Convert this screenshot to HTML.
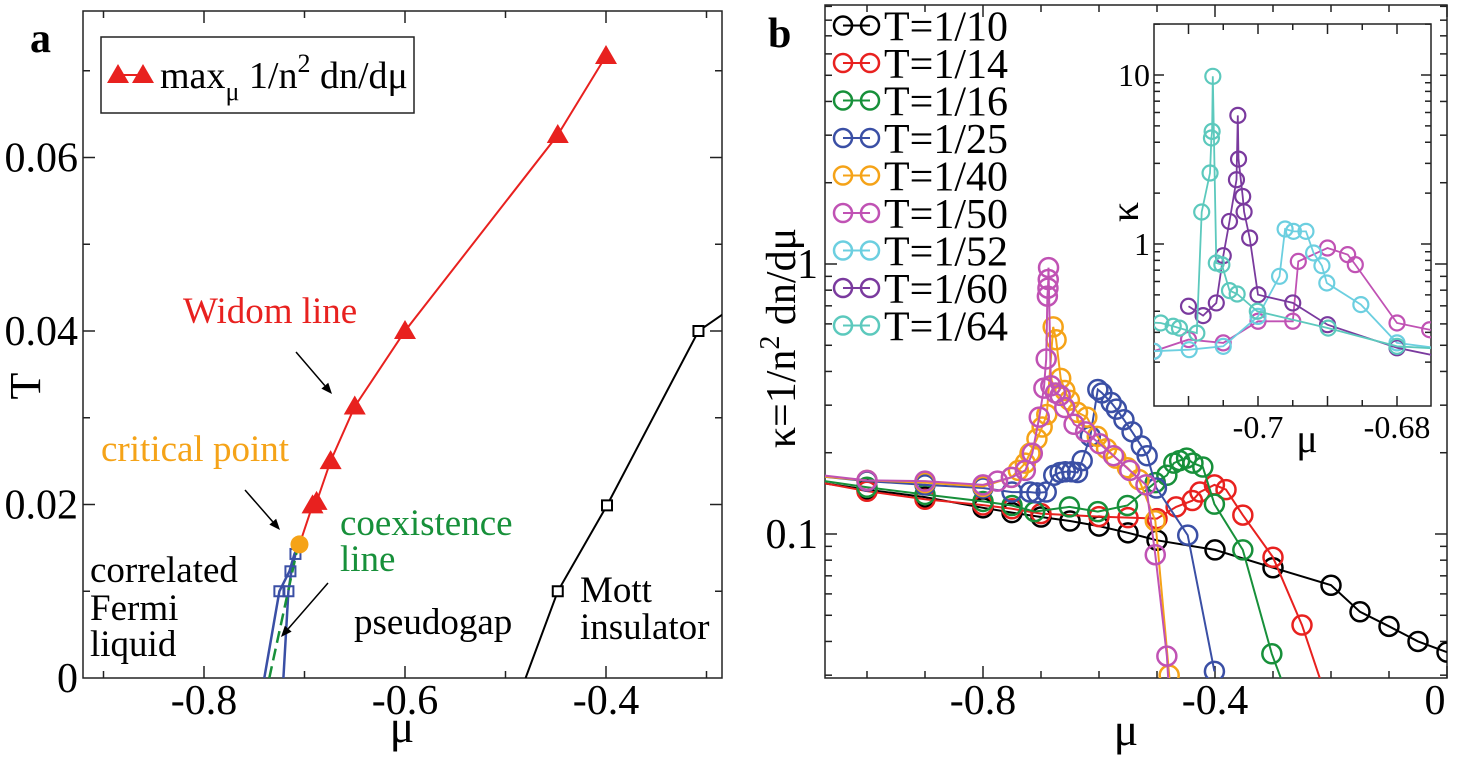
<!DOCTYPE html>
<html><head><meta charset="utf-8"><style>
html,body{margin:0;padding:0;background:#fff;}
svg{display:block;font-family:"Liberation Serif","DejaVu Serif",serif;}
</style></head><body>
<svg id="fig" width="1458" height="758" viewBox="0 0 1458 758" xmlns="http://www.w3.org/2000/svg">
<defs>
<clipPath id="clipA"><rect x="83" y="11" width="639" height="667"/></clipPath>
<clipPath id="clipB"><rect x="825" y="5" width="622" height="673"/></clipPath>
<clipPath id="clipI"><rect x="1154" y="24" width="277" height="382"/></clipPath>
</defs>
<g id="panelA"></g>
<g id="panelB"></g>
<g id="inset"></g>
</svg>
<script>
// ===== Panel a data =====
const widomMu = [-0.4, -0.448, -0.6, -0.65, -0.674, -0.688, -0.692, -0.705];
const widomT  = [0.0717, 0.0626, 0.0400, 0.0313, 0.0250, 0.0203, 0.0199, 0.0154];
const critMu = [-0.705];
const critT = [0.0154];
const mottMu = [-0.48, -0.448, -0.399, -0.308, -0.2];
const mottT  = [0, 0.01, 0.0199, 0.040, 0.0486];
const coexLeftMu = [-0.74, -0.725, -0.715, -0.71, -0.705];
const coexLeftT  = [0, 0.01, 0.0123, 0.0143, 0.0154];
const coexRightMu = [-0.721, -0.716, -0.713, -0.709];
const coexRightT  = [0, 0.01, 0.0123, 0.0143];
const coexSqMu = [-0.725, -0.716, -0.714, -0.709];
const coexSqT  = [0.01, 0.01, 0.0123, 0.0143];
const dashMu = [-0.735, -0.707];
const dashT  = [0, 0.0150];
const aXTicks = [-0.8, -0.6, -0.4];
const aXTickLabels = ["-0.8", "-0.6", "-0.4"];
const aYTicks = [0, 0.02, 0.04, 0.06];
const aYTickLabels = ["0", "0.02", "0.04", "0.06"];

// ===== Panel b data =====
const seriesNames = ["T=1/10","T=1/14","T=1/16","T=1/25","T=1/40","T=1/50","T=1/52","T=1/60","T=1/64"];
const seriesColors = ["#000000","#e8211f","#17903a","#3a4fa5","#f5a318","#c052b4","#6ccfe0","#7a3a9e","#5cc9bd"];
const k10Mu = [-1.1,-1.0,-0.9,-0.8,-0.75,-0.7,-0.65,-0.6,-0.55,-0.5,-0.4,-0.3,-0.2,-0.15,-0.1,-0.05,0];
const k10K  = [0.157,0.146,0.137,0.125,0.120,0.1156,0.1117,0.107,0.101,0.0948,0.0873,0.075,0.0646,0.0515,0.0455,0.040,0.0365];
const k14Mu = [-1.1,-1.0,-0.9,-0.8,-0.75,-0.7,-0.6,-0.55,-0.5,-0.467,-0.439,-0.426,-0.401,-0.381,-0.352,-0.3,-0.25,-0.2];
const k14K  = [0.158,0.144,0.1345,0.128,0.124,0.119,0.116,0.115,0.114,0.126,0.133,0.143,0.152,0.146,0.1175,0.082,0.046,0.022];
const k16Mu = [-1.1,-1.0,-0.9,-0.8,-0.75,-0.711,-0.651,-0.602,-0.551,-0.503,-0.483,-0.471,-0.461,-0.449,-0.438,-0.421,-0.401,-0.352,-0.302,-0.25];
const k16K  = [0.16,0.149,0.140,0.132,0.1275,0.121,0.126,0.121,0.1275,0.155,0.165,0.183,0.187,0.191,0.183,0.177,0.129,0.0873,0.036,0.018];
const k25Mu = [-1.1,-1.0,-0.9,-0.8,-0.75,-0.719,-0.707,-0.691,-0.678,-0.667,-0.658,-0.647,-0.637,-0.629,-0.615,-0.602,-0.595,-0.579,-0.57,-0.557,-0.543,-0.527,-0.517,-0.501,-0.447,-0.401];
const k25K  = [0.165,0.157,0.152,0.148,0.143,0.143,0.142,0.143,0.165,0.169,0.170,0.170,0.169,0.187,0.23,0.343,0.333,0.307,0.29,0.265,0.239,0.212,0.195,0.148,0.099,0.031];
const k40Mu = [-1.1,-1.0,-0.9,-0.8,-0.751,-0.739,-0.727,-0.719,-0.707,-0.698,-0.69,-0.679,-0.674,-0.666,-0.659,-0.651,-0.637,-0.621,-0.603,-0.587,-0.571,-0.551,-0.531,-0.503,-0.479,-0.47];
const k40K  = [0.165,0.158,0.155,0.150,0.162,0.172,0.183,0.199,0.225,0.249,0.277,0.585,0.524,0.377,0.34,0.313,0.282,0.271,0.23,0.207,0.191,0.176,0.159,0.112,0.030,0.018];
const k50Mu = [-1.1,-1.0,-0.9,-0.8,-0.775,-0.751,-0.727,-0.715,-0.703,-0.695,-0.691,-0.689,-0.688,-0.6875,-0.687,-0.683,-0.675,-0.667,-0.659,-0.643,-0.623,-0.599,-0.575,-0.547,-0.519,-0.503,-0.483,-0.475];
const k50K  = [0.167,0.158,0.157,0.152,0.157,0.162,0.172,0.199,0.271,0.347,0.445,0.76,0.814,0.876,0.97,0.354,0.333,0.326,0.294,0.255,0.239,0.216,0.195,0.172,0.152,0.0838,0.0353,0.018];
const bXTicks = [-0.8, -0.4, 0];
const bXTickLabels = ["-0.8", "-0.4", "0"];
const bYTicks = [0.1, 1];
const bYTickLabels = ["0.1", "1"];

// ===== Inset data =====
const i50Mu = [-0.72,-0.715,-0.71,-0.705,-0.7,-0.695,-0.6942,-0.69,-0.6871,-0.686,-0.68,-0.6753,-0.67];
const i50K  = [0.22,0.232,0.272,0.26,0.349,0.349,0.789,0.947,0.865,0.755,0.341,0.311,0.29];
const i52Mu = [-0.72,-0.715,-0.7099,-0.705,-0.7,-0.6969,-0.6961,-0.6949,-0.6931,-0.692,-0.6908,-0.6901,-0.6852,-0.68,-0.67];
const i52K  = [0.225,0.232,0.237,0.248,0.373,0.644,1.227,1.188,1.188,0.885,0.744,0.588,0.438,0.26,0.23];
const i60Mu = [-0.71,-0.7079,-0.706,-0.705,-0.7041,-0.7031,-0.7029,-0.7028,-0.7022,-0.702,-0.7012,-0.70,-0.695,-0.69,-0.68,-0.67];
const i60K  = [0.428,0.377,0.448,0.853,1.36,2.40,5.77,3.18,1.91,1.55,1.085,0.501,0.448,0.333,0.243,0.20];
const i64Mu = [-0.72,-0.714,-0.7122,-0.7113,-0.7088,-0.7081,-0.7069,-0.7067,-0.7066,-0.7065,-0.706,-0.7052,-0.7041,-0.703,-0.7001,-0.6899,-0.68,-0.67];
const i64K  = [0.35,0.341,0.326,0.318,0.297,1.546,2.63,4.24,4.64,9.82,0.772,0.754,0.530,0.506,0.400,0.318,0.248,0.235];
const iXTicks = [-0.7, -0.68];
const iXTickLabels = ["-0.7", "-0.68"];
const iYTicks = [1, 10];
const iYTickLabels = ["1", "10"];

const NS = "http://www.w3.org/2000/svg";
function mk(parent, tag, attrs, text){
  const e = document.createElementNS(NS, tag);
  for (const k in attrs) e.setAttribute(k, attrs[k]);
  if (text !== undefined) e.textContent = text;
  parent.appendChild(e);
  return e;
}
// axes
const xa = m => 204 + (m + 0.8) * 1005;
const ya = t => 678 - t * 8675;
const xb = m => 1447 + m * 580;
const yb = k => 264 - Math.log10(k) * 270;
const xi = m => 1258 + (m + 0.7) * 6950;
const yi = k => 244 - Math.log10(k) * 169;

// ================= PANEL A =================
const A = document.getElementById('panelA');
const aFrame = mk(A,'rect',{x:83,y:11,width:639,height:667,fill:'none',stroke:'#222','stroke-width':1.5});


// ticks
for (let m=-0.9; m<=-0.29; m+=0.1){
  const mm = Math.round(m*10)/10;
  const major = aXTicks.some(v=>Math.abs(v-mm)<1e-6);
  const L = major?12:7;
  const x = xa(mm);
  mk(A,'line',{x1:x,x2:x,y1:678,y2:678-L,stroke:'#222','stroke-width':1.5});
  mk(A,'line',{x1:x,x2:x,y1:11,y2:11+L,stroke:'#222','stroke-width':1.5});
}
for (let t=0.01; t<0.077; t+=0.01){
  const tt = Math.round(t*100)/100;
  const major = aYTicks.some(v=>Math.abs(v-tt)<1e-6);
  const L = major?12:7;
  const y = ya(tt);
  mk(A,'line',{x1:83,x2:83+L,y1:y,y2:y,stroke:'#222','stroke-width':1.5});
  mk(A,'line',{x1:722,x2:722-L,y1:y,y2:y,stroke:'#222','stroke-width':1.5});
}
aXTicks.forEach((v,i)=>{
  const t = mk(A,'text',{x:xa(v),y:714,'font-size':42,'text-anchor':'middle'},aXTickLabels[i]);
  
  
});
aYTicks.forEach((v,i)=>{
  const t = mk(A,'text',{x:78,y:ya(v)+14,'font-size':42,'text-anchor':'end'},aYTickLabels[i]);
  
  
});
const aXT = mk(A,'text',{x:402,y:742,'font-size':46,'text-anchor':'middle'},'μ');


const aYT = mk(A,'text',{x:0,y:0,'font-size':44,'text-anchor':'middle',transform:'translate(40,386) rotate(-90)'},'T');


const aLab = mk(A,'text',{x:30,y:52,'font-size':42,'font-weight':'bold'},'a');



const gA = mk(A,'g',{'clip-path':'url(#clipA)'});
function poly(g, xs, ys, fx, fy, attrs){
  const pts = xs.map((v,i)=>fx(v).toFixed(1)+','+fy(ys[i]).toFixed(1)).join(' ');
  return mk(g,'polyline',Object.assign({points:pts,fill:'none'},attrs));
}
// coexistence lines (blue)
const cl = poly(gA, coexLeftMu, coexLeftT, xa, ya, {stroke:'#3a4fa5','stroke-width':2.5});


const cr = poly(gA, coexRightMu, coexRightT, xa, ya, {stroke:'#3a4fa5','stroke-width':2.5});


const dl = poly(gA, dashMu, dashT, xa, ya, {stroke:'#17903a','stroke-width':2.5,'stroke-dasharray':'12,6'});


coexSqMu.forEach((m,i)=>{
  const r = mk(gA,'rect',{x:xa(m)-5,y:ya(coexSqT[i])-5,width:10,height:10,fill:'none',stroke:'#3a4fa5','stroke-width':2});
  
  
});
// Mott line
const ml = poly(gA, mottMu, mottT, xa, ya, {stroke:'#000','stroke-width':2});


mottMu.forEach((m,i)=>{
  if (mottT[i] <= 0 || xa(m) > 715) return;
  const r = mk(gA,'rect',{x:xa(m)-5,y:ya(mottT[i])-5,width:10,height:10,fill:'#fff',stroke:'#000','stroke-width':2});
  
  
});
// Widom line
const wl = poly(gA, widomMu, widomT, xa, ya, {stroke:'#e8211f','stroke-width':2});


function tri(g,x,y,col){ return mk(g,'polygon',{points:`${x-11},${y+8} ${x+11},${y+8} ${x},${y-11}`,fill:col}); }
widomMu.forEach((m,i)=>{
  if (i === widomMu.length-1) return;
  const p = tri(gA, xa(m), ya(widomT[i]), '#e8211f');
  
  
});
const cp = mk(gA,'circle',{cx:xa(critMu[0]),cy:ya(critT[0]),r:9,fill:'#f5a318'});



// annotations
function txt(g,x,y,s,fs,col,name){
  const t = mk(g,'text',{x:x,y:y,'font-size':fs,fill:col},s);
  
  
  return t;
}
txt(A,183,323,'Widom line',37,'#e8211f','widom-line-label');
txt(A,101,461,'critical point',37,'#f5a318','critical-point-label');
txt(A,340,535,'coexistence',37,'#17903a','coexistence-label');
txt(A,340,571,'line',37,'#17903a','coexistence-label-line2');
txt(A,90,582,'correlated',37,'#000','fermi-liquid-label');
txt(A,90,620,'Fermi',37,'#000','fermi-liquid-label-line2');
txt(A,90,656,'liquid',37,'#000','fermi-liquid-label-line3');
txt(A,354,634,'pseudogap',37,'#000','pseudogap-label');
txt(A,580,602,'Mott',37,'#000','mott-label');
txt(A,580,639,'insulator',37,'#000','mott-label-line2');
function arrow(g,x1,y1,x2,y2,name){
  const gg = mk(g,'g',{});
  
  
  const a = Math.atan2(y2-y1,x2-x1), L=11, W=4.5;
  const bx = x2-L*Math.cos(a), by = y2-L*Math.sin(a);
  mk(gg,'line',{x1:x1,y1:y1,x2:bx,y2:by,stroke:'#000','stroke-width':1.5});
  mk(gg,'polygon',{points:`${x2},${y2} ${bx-W*Math.sin(a)},${by+W*Math.cos(a)} ${bx+W*Math.sin(a)},${by-W*Math.cos(a)}`,fill:'#000'});
}
arrow(A,296,352,332,394,'widom-arrow');
arrow(A,245,490,280,530,'critical-point-arrow');
arrow(A,328,583,281,637,'coexistence-arrow');
// legend a
const lgA = mk(A,'g',{});


mk(lgA,'rect',{x:101,y:37,width:313,height:76,fill:'#fff',stroke:'#222','stroke-width':1.5});
mk(lgA,'line',{x1:118,x2:143,y1:75,y2:75,stroke:'#e8211f','stroke-width':2});
tri(lgA,118,75,'#e8211f'); tri(lgA,143,75,'#e8211f');
const lt = mk(lgA,'text',{x:160,y:88,'font-size':38});


lt.innerHTML = 'max<tspan font-size="26" dy="12">μ</tspan><tspan dy="-12"> 1/n</tspan><tspan font-size="26" dy="-16">2</tspan><tspan dy="16"> dn/dμ</tspan>';

// ================= PANEL B =================
const B = document.getElementById('panelB');
const bFrame = mk(B,'rect',{x:825,y:5,width:622,height:673,fill:'none',stroke:'#222','stroke-width':1.5});


for (let m=-1.0; m<=0.001; m+=0.1){
  const mm = Math.round(m*10)/10;
  const major = bXTicks.some(v=>Math.abs(v-mm)<1e-6);
  const L = major?12:7, x = xb(mm);
  mk(B,'line',{x1:x,x2:x,y1:678,y2:678-L,stroke:'#222','stroke-width':1.5});
  mk(B,'line',{x1:x,x2:x,y1:5,y2:5+L,stroke:'#222','stroke-width':1.5});
}
[0.03,0.04,0.05,0.06,0.07,0.08,0.09,0.1,0.2,0.3,0.4,0.5,0.6,0.7,0.8,0.9,1,2,3,4,5,6,7,8,9].forEach(k=>{
  const major = (k===0.1||k===1);
  const L = major?12:7, y = yb(k);
  mk(B,'line',{x1:825,x2:825+L,y1:y,y2:y,stroke:'#222','stroke-width':1.5});
  mk(B,'line',{x1:1447,x2:1447-L,y1:y,y2:y,stroke:'#222','stroke-width':1.5});
});
bXTicks.forEach((v,i)=>{
  const t = mk(B,'text',{x:Math.min(xb(v),1435),y:714,'font-size':42,'text-anchor':'middle'},bXTickLabels[i]);
  
  
});
bYTicks.forEach((v,i)=>{
  const t = mk(B,'text',{x:818,y:yb(v)+14,'font-size':42,'text-anchor':'end'},bYTickLabels[i]);
  
  
});
const bXT = mk(B,'text',{x:1126,y:745,'font-size':46,'text-anchor':'middle'},'μ');


const bYT = mk(B,'text',{x:0,y:0,'font-size':42,'text-anchor':'middle',transform:'translate(795,338) rotate(-90)'});


bYT.innerHTML = 'κ=1/n<tspan font-size="28" dy="-16">2</tspan><tspan dy="16"> dn/dμ</tspan>';
const bLab = mk(B,'text',{x:768,y:47,'font-size':42,'font-weight':'bold'},'b');



const gB = mk(B,'g',{'clip-path':'url(#clipB)'});
const mainSeries = [[k10Mu,k10K,0],[k14Mu,k14K,1],[k16Mu,k16K,2],[k25Mu,k25K,3],[k40Mu,k40K,4],[k50Mu,k50K,5]];
function drawSeries(g, mus, ks, ci, fx, fy, r, sw, lw){
  const sg = mk(g,'g',{});
  
  
  const col = seriesColors[ci];
  poly(sg, mus, ks, fx, fy, {stroke:col,'stroke-width':lw});
  mus.forEach((m,i)=>{
    const c = mk(sg,'circle',{cx:fx(m),cy:fy(ks[i]),r:r,fill:'none',stroke:col,'stroke-width':sw});
    
    
  });
}
mainSeries.forEach(s=>drawSeries(gB,s[0],s[1],s[2],xb,yb,9.5,2.5,2));

// legend b
const lgB = mk(B,'g',{});


seriesNames.forEach((n,i)=>{
  const y = 25.5 + i*37.5, col = seriesColors[i];
  const e = mk(lgB,'g',{});
  
  
  mk(e,'line',{x1:843,x2:870,y1:y,y2:y,stroke:col,'stroke-width':2});
  mk(e,'circle',{cx:843,cy:y,r:9,fill:'none',stroke:col,'stroke-width':2.5});
  mk(e,'circle',{cx:870,cy:y,r:9,fill:'none',stroke:col,'stroke-width':2.5});
  mk(e,'text',{x:884,y:y+15,'font-size':42},n);
});

// ================= INSET =================
const I = document.getElementById('inset');
const iBg = mk(I,'rect',{x:1154,y:24,width:277,height:382,fill:'#fff',stroke:'#222','stroke-width':1.5});


[-0.71,-0.705,-0.7,-0.695,-0.69,-0.685,-0.68].forEach(m=>{
  const major = (Math.abs((m*100)-Math.round(m*100))<1e-6);
  const L = major?10:6, x = xi(m);
  mk(I,'line',{x1:x,x2:x,y1:406,y2:406-L,stroke:'#222','stroke-width':1.5});
  mk(I,'line',{x1:x,x2:x,y1:24,y2:24+L,stroke:'#222','stroke-width':1.5});
});
[0.2,0.3,0.4,0.5,0.6,0.7,0.8,0.9,1,2,3,4,5,6,7,8,9,10,20].forEach(k=>{
  const major = (k===1||k===10);
  const L = major?10:6, y = yi(k);
  if (y<24||y>406) return;
  mk(I,'line',{x1:1154,x2:1154+L,y1:y,y2:y,stroke:'#222','stroke-width':1.5});
  mk(I,'line',{x1:1431,x2:1431-L,y1:y,y2:y,stroke:'#222','stroke-width':1.5});
});
iXTicks.forEach((v,i)=>{
  const t = mk(I,'text',{x:xi(v),y:438,'font-size':32,'text-anchor':'middle'},iXTickLabels[i]);
  
  
});
iYTicks.forEach((v,i)=>{
  const t = mk(I,'text',{x:1150,y:yi(v)+11,'font-size':32,'text-anchor':'end'},iYTickLabels[i]);
  
  
});
const iXT = mk(I,'text',{x:1307,y:452,'font-size':40,'text-anchor':'middle'},'μ');


const iYT = mk(I,'text',{x:0,y:0,'font-size':40,'text-anchor':'middle',transform:'translate(1138,212) rotate(-90)'},'κ');


const gI = mk(I,'g',{'clip-path':'url(#clipI)'});
drawSeries(gI,i50Mu,i50K,5,xi,yi,7.5,2.2,1.8);
drawSeries(gI,i52Mu,i52K,6,xi,yi,7.5,2.2,1.8);
drawSeries(gI,i60Mu,i60K,7,xi,yi,7.5,2.2,1.8);
drawSeries(gI,i64Mu,i64K,8,xi,yi,7.5,2.2,1.8);
</script>
</body></html>
